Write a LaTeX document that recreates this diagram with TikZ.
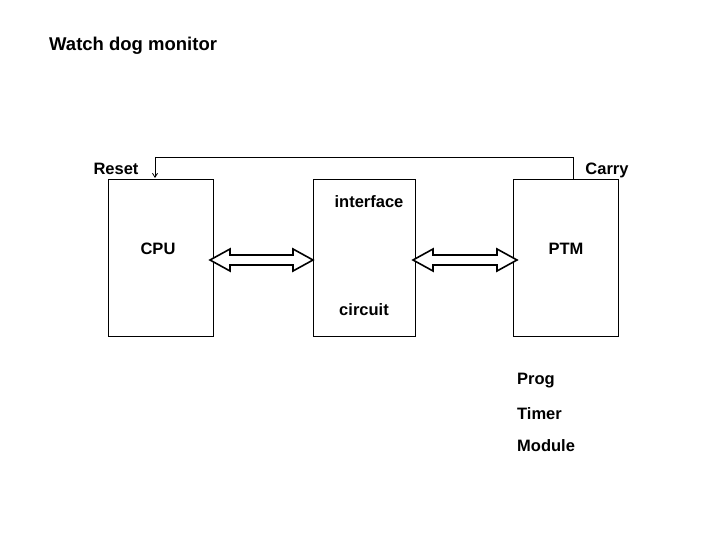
\documentclass[tikz,border=0pt]{standalone}
\usepackage{fontspec}
\usetikzlibrary{arrows.meta}
\setmainfont{Liberation Sans}
\begin{document}
\begin{tikzpicture}[x=1pt,y=-1pt,
  box/.style={draw,line width=0.8pt,minimum width=105pt,minimum height=157pt,anchor=north west,inner sep=0},
  lab/.style={font=\fontsize{16.5}{18}\selectfont\bfseries,inner sep=0},
  dbl/.style={draw,line width=1.6pt,fill=white,line join=miter}]
\useasboundingbox (0,0) rectangle (720,540);
\node[lab,anchor=west,font=\fontsize{18.5}{20}\selectfont\bfseries] (title) at (49,46) {Watch dog monitor};
\node[box] (cpu) at (108,179) {};
\node[box,minimum width=102pt] (intf) at (313,179) {};
\node[box] (ptm) at (513,179) {};
\node[lab] (cpul) at (158,249) {CPU};
\node[lab] (intl) at (369,202) {interface};
\node[lab] (cirl) at (364,310) {circuit};
\node[lab] (ptml) at (566,249) {PTM};
\node[lab] (reset) at (116,169) {Reset};
\node[lab] (carry) at (607,170) {Carry};
\node[lab,anchor=west] (p1) at (517,381) {Prog};
\node[lab,anchor=west] (p2) at (517,414) {Timer};
\node[lab,anchor=west] (p3) at (517,446) {Module};
\coordinate (a) at (573,157);
\coordinate (b) at (155,157);
\draw[line width=0.8pt] (573,179) -- (a) -- (b);
\draw[line width=0.8pt,-{Straight Barb[length=4pt,width=5pt]}] (b) -- (155,178);
\foreach \s/\e in {210/313,413/517}{
  \draw[dbl] (\s,260) -- (\s+20,249) -- (\s+20,255) -- (\e-20,255) -- (\e-20,249) -- (\e,260)
   -- (\e-20,271) -- (\e-20,265) -- (\s+20,265) -- (\s+20,271) -- cycle;
}
\end{tikzpicture}
\end{document}
